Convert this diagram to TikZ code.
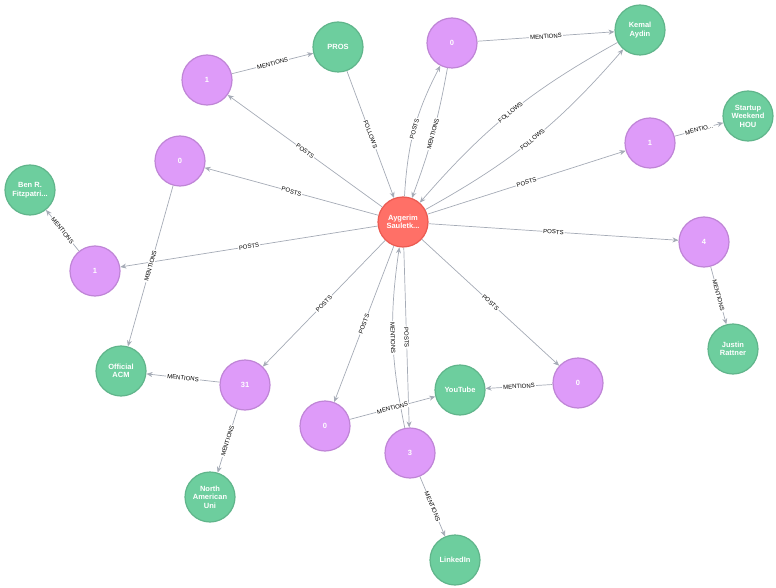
\documentclass[tikz,border=0pt]{standalone}
\usepackage{fontspec}
\setmainfont{Liberation Sans}
\usetikzlibrary{arrows.meta}
\definecolor{gfill}{HTML}{6DCE9E}\definecolor{gline}{HTML}{60B58B}
\definecolor{pfill}{HTML}{DE9BF9}\definecolor{pline}{HTML}{BF85D6}
\definecolor{rfill}{HTML}{FF7067}\definecolor{rline}{HTML}{EB5A51}
\definecolor{edge}{HTML}{A5ABB6}
\tikzset{
 base/.style={circle,minimum size=50pt,inner sep=0pt,line width=1.2pt,text=white,font=\bfseries\fontsize{7.5}{8.5}\selectfont,align=center},
 gn/.style={base,fill=gfill,draw=gline},
 pn/.style={base,fill=pfill,draw=pline},
 rn/.style={base,fill=rfill,draw=rline},
 rel/.style={draw=edge,line width=0.7pt,-{Stealth[length=6pt,width=5pt]}},
 lab/.style={sloped,fill=white,inner sep=1pt,font=\fontsize{6}{6}\selectfont,text=black}
}
\begin{document}
\begin{tikzpicture}[x=1pt,y=-1pt]
\useasboundingbox (0,0) rectangle (776,588);
\node[rn] (c) at (403,222) {Aygerim\\Sauletk...};
\node[gn] (pros) at (338,47) {PROS};
\node[pn] (p0a) at (452,43) {0};
\node[gn] (kem) at (640,30) {Kemal\\Aydin};
\node[pn] (p1a) at (207,80) {1};
\node[gn] (sw) at (748,116) {Startup\\Weekend\\HOU};
\node[pn] (p1b) at (650,143) {1};
\node[pn] (p0b) at (180,161) {0};
\node[gn] (ben) at (30,190) {Ben R.\\Fitzpatri...};
\node[pn] (p4) at (704,242) {4};
\node[pn] (p1c) at (95,271) {1};
\node[gn] (jr) at (733,349) {Justin\\Rattner};
\node[gn] (acm) at (121,371) {Official\\ACM};
\node[pn] (p31) at (245,385) {31};
\node[pn] (p0c) at (578,383) {0};
\node[gn] (yt) at (460,390) {YouTube};
\node[pn] (p0d) at (325,426) {0};
\node[pn] (p3) at (410,453) {3};
\node[gn] (nau) at (210,497) {North\\American\\Uni};
\node[gn] (li) at (455,560) {LinkedIn};

\draw[rel] (c) -- node[lab]{POSTS} (p1a);
\draw[rel] (c) -- node[lab]{POSTS} (p0b);
\draw[rel] (c) -- node[lab]{POSTS} (p1c);
\draw[rel] (c) -- node[lab]{POSTS} (p31);
\draw[rel] (c) -- node[lab]{POSTS} (p0d);
\draw[rel] (c) -- node[lab]{POSTS} (p3);
\draw[rel] (c) -- node[lab]{POSTS} (p0c);
\draw[rel] (c) -- node[lab]{POSTS} (p4);
\draw[rel] (c) -- node[lab]{POSTS} (p1b);
\draw[rel] (c) to[bend left=12] node[lab]{POSTS} (p0a);
\draw[rel] (p0a) to[bend left=5] node[lab]{MENTIONS} (c);
\draw[rel] (p3) to[bend left=10] node[lab]{MENTIONS} (c);
\draw[rel] (pros) -- node[lab]{FOLLOWS} (c);
\draw[rel] (kem) to[bend right=10] node[lab]{FOLLOWS} (c);
\draw[rel] (c) to[bend right=10] node[lab]{FOLLOWS} (kem);
\draw[rel] (p1a) -- node[lab]{MENTIONS} (pros);
\draw[rel] (p0a) -- node[lab]{MENTIONS} (kem);
\draw[rel] (p1b) -- node[lab]{MENTIO...} (sw);
\draw[rel] (p0b) -- node[lab]{MENTIONS} (acm);
\draw[rel] (p1c) -- node[lab]{MENTIONS} (ben);
\draw[rel] (p4) -- node[lab]{MENTIONS} (jr);
\draw[rel] (p31) -- node[lab]{MENTIONS} (acm);
\draw[rel] (p31) -- node[lab]{MENTIONS} (nau);
\draw[rel] (p0c) -- node[lab]{MENTIONS} (yt);
\draw[rel] (p0d) -- node[lab]{MENTIONS} (yt);
\draw[rel] (p3) -- node[lab]{MENTIONS} (li);
\end{tikzpicture}
\end{document}
